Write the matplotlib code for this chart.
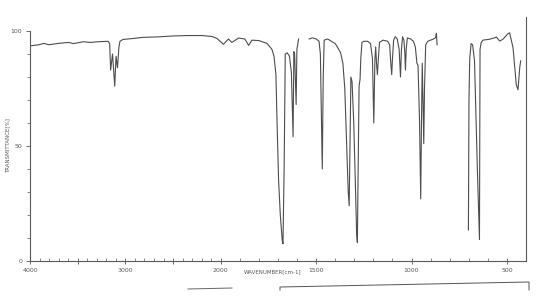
import matplotlib
matplotlib.use("Agg")
import matplotlib.pyplot as plt
import numpy as np
from matplotlib.lines import Line2D

# IR spectrum, in three pieces (the pen trace has gaps)
wn_a = [4000, 3907, 3855, 3803, 3700, 3596, 3544, 3440, 3368, 3285,
        3181, 3165, 3155, 3135, 3112, 3098, 3083, 3068, 3057, 3026,
        2923, 2819, 2664, 2508, 2352, 2197, 2094, 2042, 1986, 1960,
        1942, 1907, 1874, 1854, 1837, 1800, 1758, 1732, 1721, 1711,
        1705, 1697, 1688, 1678, 1674, 1668, 1662, 1652, 1640, 1630,
        1621, 1617, 1613, 1605, 1601, 1592]
tr_a = [93.5, 94, 94.6, 94, 94.6, 95, 94.5, 95.3, 95, 95.3,
        95.5, 94.5, 83, 90, 76, 89, 84, 93, 95.5, 96.3,
        96.7, 97.2, 97.4, 97.8, 98, 98, 97.6, 96.8, 94.2, 96.5,
        95, 96.9, 96.5, 93.7, 96, 95.8, 94.6, 92, 89, 81,
        60, 35, 20, 9, 7.5, 40, 90, 90.5, 89, 82,
        54, 91, 90, 68, 92, 96.5]

wn_b = [1537, 1520, 1500, 1485, 1478, 1468, 1463, 1458, 1440, 1420,
        1400, 1385, 1372, 1360, 1350, 1340, 1332, 1327, 1322, 1318,
        1312, 1303, 1295, 1288, 1284, 1280, 1275, 1270, 1266, 1260,
        1250, 1230, 1215, 1205, 1198, 1192, 1188, 1183, 1179, 1174,
        1168, 1150, 1125, 1115, 1108, 1104, 1100, 1094, 1085, 1075,
        1065, 1058, 1053, 1047, 1040, 1035, 1032, 1028, 1022, 1005,
        990, 980, 972, 966, 958, 952, 948, 944, 940, 936,
        932, 926, 915, 900, 885, 875, 870, 866]
tr_b = [96.5, 97, 96.5, 95.5, 90, 40, 80, 96, 96.5, 95.5,
        94.5, 92.5, 90.5, 86, 75, 50, 30, 24, 55, 80,
        78, 60, 35, 12, 8, 40, 76, 79, 88, 95,
        95.5, 95.5, 94.5, 88, 60, 88, 93, 85, 81, 88,
        95, 96, 95.5, 94, 85, 81, 88, 96, 97.5, 96.5,
        92, 80, 92, 97.5, 96, 90, 83, 92, 97, 96.5,
        95.5, 93, 86, 85, 60, 27, 60, 86, 70, 51,
        75, 94, 95.5, 96, 96.5, 97, 99, 94]

wn_c = [702, 699, 695, 688, 680, 670, 655, 644, 641, 635,
        626, 591, 564, 556, 538, 521, 495, 486, 468, 451,
        442, 433, 428]
tr_c = [13.5, 70, 88, 94.5, 94, 87, 40, 9.3, 92, 95,
        96, 96.4, 97, 97.4, 95.6, 96.4, 98.8, 99.2, 92.7, 76.6,
        74.4, 84, 87]

x_ticks = [4000, 3500, 3000, 2500, 2000, 1500, 1000, 500]
x_labels = ["4000", "", "3000", "", "2000", "1500", "1000", "500"]
y_ticks = [0, 50, 100]
y_labels = ["0", "50", "100"]


# chart paper is 2x expanded below 2000 cm-1
def fwd(w):
    w = np.asarray(w, dtype=float)
    return np.where(w >= 2000, w, 2 * w - 2000)


def inv(u):
    u = np.asarray(u, dtype=float)
    return np.where(u >= 2000, u, (u + 2000) / 2)


ink = "#4d4d4d"
axc = "#5a5a5a"

fig = plt.figure(figsize=(5.4, 3.06), dpi=100)
ax = fig.add_axes([0.0556, 0.147, 0.9185, 0.797])
ax.set_xscale("function", functions=(fwd, inv))

for wn, tr in [(wn_a, tr_a), (wn_b, tr_b), (wn_c, tr_c)]:
    ax.plot(wn, tr, color=ink, lw=0.8)

ax.set_xlim(4000, 400)
ax.set_ylim(0, 106)

ax.spines["top"].set_visible(False)
ax.spines["left"].set_bounds(0, 100)
for s in ["left", "right", "bottom"]:
    ax.spines[s].set_color(axc)
    ax.spines[s].set_linewidth(0.8)

ax.set_xticks(x_ticks)
ax.set_xticklabels(x_labels)
ax.set_xticks(np.arange(400, 4001, 100), minor=True)
ax.set_yticks(y_ticks)
ax.set_yticklabels(y_labels)
ax.set_yticks(np.arange(10, 100, 10), minor=True)

ax.tick_params(axis="x", which="major", direction="inout", length=4, width=0.6,
               labelsize=4.5, pad=3, colors=axc)
ax.tick_params(axis="x", which="minor", direction="in", length=2, width=0.5, colors=axc)
ax.tick_params(axis="y", which="major", direction="out", length=3, width=0.6,
               labelsize=4.5, pad=2.5, colors=axc)
ax.tick_params(axis="y", which="minor", direction="out", length=2, width=0.5, colors=axc)
ax.tick_params(right=False, which="both")

fig.text(273 / 540, 1 - 272 / 306, "WAVENUMBER[cm-1]", fontsize=4,
         family=["Liberation Sans Narrow", "DejaVu Sans"], color=axc,
         ha="center", va="center")
fig.text(8 / 540, 1 - 146 / 306, "TRANSMITTANCE[%]", fontsize=4, rotation=90,
         color=axc, ha="center", va="center")

# pencil marks under the chart on the scanned page
fig.add_artist(Line2D([188 / 540, 232 / 540], [1 - 289 / 306, 1 - 288 / 306],
                      color="#666666", lw=0.7))
fig.add_artist(Line2D([280 / 540, 280 / 540, 529 / 540, 529 / 540],
                      [1 - 290 / 306, 1 - 287 / 306, 1 - 282 / 306, 1 - 290 / 306],
                      color="#555555", lw=0.7))

fig.savefig("out.png", dpi=100, facecolor="white")
